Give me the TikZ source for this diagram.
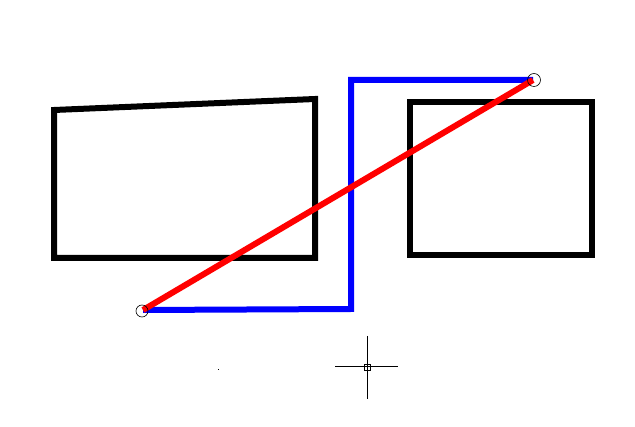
\documentclass[tikz,border=0pt]{standalone}
\begin{document}
\begin{tikzpicture}[x=1pt,y=-1pt,
  boxline/.style={draw=black,line width=6pt,line join=miter},
  blueline/.style={draw=blue,line width=6pt,line join=miter},
  redline/.style={draw=red,line width=6pt},
  endmark/.style={draw=black,line width=0.6pt,circle,minimum size=12pt,inner sep=0pt},
  crossline/.style={draw=black,line width=1pt}]
\useasboundingbox[fill=white] (0,0) rectangle (635,427);
% left box
\draw[boxline] (54,110) -- (315,99) -- (315,258) -- (54,258) -- cycle;
% right box
\draw[boxline] (410,102) rectangle (592,255);
% end points
\coordinate (A) at (143,310);
\coordinate (B) at (533,80);
\coordinate (C1) at (351,309);
\coordinate (C2) at (351,80);
% blue polyline
\draw[blueline] (A) -- (C1) -- (C2) -- (B);
% red straight line
\draw[redline] (A) -- (B);
% end circles
\node[endmark] (ca) at (142,311) {};
\node[endmark,minimum size=13pt] (cb) at (534,80) {};
% crosshair
\coordinate (X) at (367,367);
\draw[crossline] (335,367) -- (398,367);
\draw[crossline] (367,336) -- (367,399);
\draw[black,line width=0.8pt] (364,364) rectangle (370,370);
% tiny dot
\fill[black] (217.5,369.5) rectangle (218.5,370.5);
\end{tikzpicture}
\end{document}
